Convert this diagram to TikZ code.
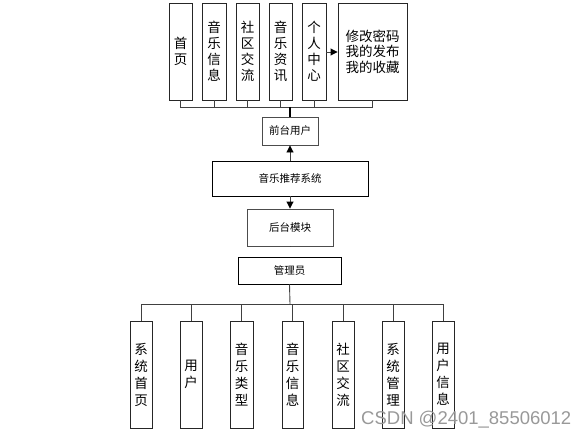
\documentclass[tikz,border=0pt]{standalone}
\usepackage{fontspec}
\setmainfont{Noto Sans CJK SC}
\newfontfamily\wmfont{Liberation Sans}
\usetikzlibrary{arrows.meta}
\begin{document}
\begin{tikzpicture}[x=1pt,y=-1pt,
  box/.style={draw=black!85,line width=0.9pt,inner sep=0pt,align=center},
  tbox/.style={box,font=\fontsize{13.5}{16}\selectfont},
  bbox/.style={box,font=\fontsize{13.5}{17}\selectfont},
  mbox/.style={box,draw=black!70,font=\fontsize{10.5}{12}\selectfont},
  conn/.style={draw=black!75,line width=0.9pt},
  arr/.style={conn,-{Triangle[width=7pt,length=7pt,color=black]}}]
\useasboundingbox[fill=white] (0,0) rectangle (587,436);
% top boxes
\node[tbox,minimum width=23,minimum height=97] (t1) at (180.5,51.5) {首\\页};
\node[tbox,minimum width=24,minimum height=97] (t2) at (214,51.5) {音\\乐\\信\\息};
\node[tbox,minimum width=23,minimum height=97] (t3) at (247.5,51.5) {社\\区\\交\\流};
\node[tbox,minimum width=23,minimum height=97] (t4) at (280.5,51.5) {音\\乐\\资\\讯};
\node[tbox,minimum width=24,minimum height=97] (t5) at (314,51.5) {个\\人\\中\\心};
\node[tbox,minimum width=69,minimum height=97,font=\fontsize{13.5}{15.5}\selectfont] (t6) at (372.5,51.5) {修改密码\\我的发布\\我的收藏};
\draw[arr] (t5.east |- 0,52) -- (t6.west |- 0,52);
\coordinate (busT) at (290,107);
\foreach \n in {t1,t2,t3,t4,t5,t6} \draw[conn] (\n.south) |- (busT);
% middle
\node[mbox,minimum width=56,minimum height=28] (front) at (290,131) {前台用户};
\draw[conn,line width=2pt,draw=black] (busT) -- (front.north);
\node[mbox,draw=black,minimum width=156,minimum height=35] (sys) at (290,178.5) {音乐推荐系统};
\draw[arr] (sys.north) -- (front.south);
\node[mbox,minimum width=86,minimum height=37] (back) at (290,227.5) {后台模块};
\draw[arr] (sys.south) -- (back.north);
\node[mbox,draw=black,minimum width=103,minimum height=27] (admin) at (289.5,270.5) {管理员};
\draw[conn] (back.south) -- (admin.north |- back.south);
\coordinate (busB) at (290,304);
\draw[conn] (admin.south) -- (busB);
% bottom boxes
\node[bbox,minimum width=22,minimum height=107] (b1) at (141,374.5) {系\\统\\首\\页};
\node[bbox,minimum width=22,minimum height=107] (b2) at (191,374.5) {用\\户};
\node[bbox,minimum width=23,minimum height=107] (b3) at (241.5,374.5) {音\\乐\\类\\型};
\node[bbox,minimum width=21,minimum height=107] (b4) at (292.5,374.5) {音\\乐\\信\\息};
\node[bbox,minimum width=22,minimum height=107] (b5) at (343,374.5) {社\\区\\交\\流};
\node[bbox,minimum width=22,minimum height=107] (b6) at (393,374.5) {系\\统\\管\\理};
\node[bbox,minimum width=22,minimum height=107] (b7) at (443,374.5) {用\\户\\信\\息};
\foreach \n in {b1,b2,b3,b4,b5,b6,b7} \draw[conn] (busB) -| (\n.north);
% watermark
\node[anchor=base west,inner sep=0pt,text=black!40,font=\wmfont\fontsize{18.5}{20}\selectfont] (wm) at (361,424) {CSDN @2401\_85506012};
\end{tikzpicture}
\end{document}
